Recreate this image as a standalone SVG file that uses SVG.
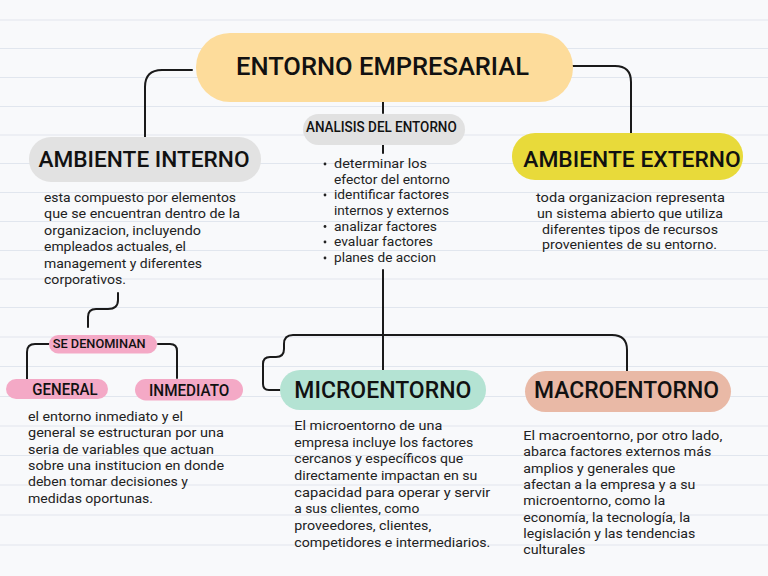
<svg xmlns="http://www.w3.org/2000/svg" width="768" height="576" viewBox="0 0 768 576">
<style>
.bg{fill:#f8f9fb}
.rule{stroke:#e1e6ee;stroke-width:1.2}
.conn{fill:none;stroke:#1a1a1a;stroke-width:2;stroke-linecap:round;stroke-linejoin:round}
.h{font-family:Roboto,"Noto Sans","Liberation Sans",sans-serif;font-weight:500;fill:#111}
.b{font-family:Roboto,"Liberation Sans",sans-serif;font-size:13px;fill:#222}
.bl{font-family:Roboto,"Liberation Sans",sans-serif;font-size:12.5px;fill:#222}
.dot{fill:#222}
</style>
<rect class="bg" x="0" y="0" width="768" height="576"/>
<g id="rules">
<line class="rule" x1="0" x2="768" y1="20" y2="20"/>
<line class="rule" x1="0" x2="768" y1="48.5" y2="48.5"/>
<line class="rule" x1="0" x2="768" y1="77.5" y2="77.5"/>
<line class="rule" x1="0" x2="768" y1="106.5" y2="106.5"/>
<line class="rule" x1="0" x2="768" y1="135" y2="135"/>
<line class="rule" x1="0" x2="768" y1="163.5" y2="163.5"/>
<line class="rule" x1="0" x2="768" y1="192.5" y2="192.5"/>
<line class="rule" x1="0" x2="768" y1="221.5" y2="221.5"/>
<line class="rule" x1="0" x2="768" y1="250.5" y2="250.5"/>
<line class="rule" x1="0" x2="768" y1="279" y2="279"/>
<line class="rule" x1="0" x2="768" y1="307.5" y2="307.5"/>
<line class="rule" x1="0" x2="768" y1="337" y2="337"/>
<line class="rule" x1="0" x2="768" y1="366.5" y2="366.5"/>
<line class="rule" x1="0" x2="768" y1="396.5" y2="396.5"/>
<line class="rule" x1="0" x2="768" y1="426" y2="426"/>
<line class="rule" x1="0" x2="768" y1="455.5" y2="455.5"/>
<line class="rule" x1="0" x2="768" y1="485" y2="485"/>
<line class="rule" x1="0" x2="768" y1="515" y2="515"/>
<line class="rule" x1="0" x2="768" y1="545" y2="545"/>
</g>
<g id="connectors">
<path class="conn" d="M192,70 H162 Q145,70 145,87 V138"/>
<path class="conn" d="M572,66 H615 Q631,66 631,82 V136"/>
<path class="conn" d="M383,101 V113"/>
<path class="conn" d="M383,144 V153"/>
<path class="conn" d="M383,270 V371"/>
<path class="conn" d="M383,335 H293 Q284,335 284,344 V349 Q284,357 276,357 H270 Q263,357 263,364 V384 Q263,390 269,390 H281"/>
<path class="conn" d="M383,335 H612 Q627,335 627,350 V372"/>
<path class="conn" d="M118,293 V300 Q118,309 108,309 H96 Q88,309 88,317 V327"/>
<path class="conn" d="M49,344 H35 Q27,344 27,352 V383"/>
<path class="conn" d="M158,344 H170 Q177,344 177,351 V378"/>
</g>
<g id="n-main">
<rect x="196" y="33" width="377" height="69" rx="34" fill="#fddc9b"/>
<text class="h" x="236" y="75" font-size="25.7" textLength="293" lengthAdjust="spacingAndGlyphs">ENTORNO EMPRESARIAL</text>
</g>
<g id="n-interno">
<rect x="29" y="137" width="232" height="45" rx="22" fill="#e2e2e2"/>
<text class="h" x="38.5" y="167" font-size="22.7" textLength="211" lengthAdjust="spacingAndGlyphs">AMBIENTE INTERNO</text>
<text class="b"><tspan x="44" y="202" textLength="192" lengthAdjust="spacingAndGlyphs">esta compuesto por elementos</tspan><tspan x="44" y="218.4" textLength="196" lengthAdjust="spacingAndGlyphs">que se encuentran dentro de la</tspan><tspan x="44" y="234.8" textLength="157" lengthAdjust="spacingAndGlyphs">organizacion, incluyendo</tspan><tspan x="44" y="251.2" textLength="142" lengthAdjust="spacingAndGlyphs">empleados actuales, el</tspan><tspan x="44" y="267.6" textLength="158" lengthAdjust="spacingAndGlyphs">management y diferentes</tspan><tspan x="44" y="284" textLength="82" lengthAdjust="spacingAndGlyphs">corporativos.</tspan></text>
</g>
<g id="n-analisis">
<rect x="303" y="114" width="162" height="31" rx="15.5" fill="#e1e1e1"/>
<text class="h" x="306" y="132.3" font-size="14.5" textLength="150.7" lengthAdjust="spacingAndGlyphs">ANALISIS DEL ENTORNO</text>
<circle class="dot" cx="325" cy="164" r="1.4"/>
<circle class="dot" cx="325" cy="195" r="1.4"/>
<circle class="dot" cx="325" cy="226.5" r="1.4"/>
<circle class="dot" cx="325" cy="242" r="1.4"/>
<circle class="dot" cx="325" cy="258" r="1.4"/>
<text class="bl"><tspan x="334" y="168" textLength="93" lengthAdjust="spacingAndGlyphs">determinar los</tspan><tspan x="334" y="183.5" textLength="116" lengthAdjust="spacingAndGlyphs">efector del entorno</tspan><tspan x="334" y="199" textLength="115" lengthAdjust="spacingAndGlyphs">identificar factores</tspan><tspan x="334" y="215" textLength="115" lengthAdjust="spacingAndGlyphs">internos y externos</tspan><tspan x="334" y="230.5" textLength="103" lengthAdjust="spacingAndGlyphs">analizar factores</tspan><tspan x="334" y="246" textLength="99" lengthAdjust="spacingAndGlyphs">evaluar factores</tspan><tspan x="334" y="262" textLength="102" lengthAdjust="spacingAndGlyphs">planes de accion</tspan></text>
</g>
<g id="n-externo">
<rect x="512" y="133" width="231" height="47" rx="23" fill="#e8da3a"/>
<text class="h" x="523.3" y="167" font-size="22.8" textLength="217.4" lengthAdjust="spacingAndGlyphs">AMBIENTE EXTERNO</text>
<text class="b"><tspan x="536" y="201.7" textLength="189" lengthAdjust="spacingAndGlyphs">toda organizacion representa</tspan><tspan x="537" y="217.6" textLength="186" lengthAdjust="spacingAndGlyphs">un sistema abierto que utiliza</tspan><tspan x="542" y="233.5" textLength="176" lengthAdjust="spacingAndGlyphs">diferentes tipos de recursos</tspan><tspan x="542" y="249.4" textLength="175" lengthAdjust="spacingAndGlyphs">provenientes de su entorno.</tspan></text>
</g>
<g id="n-denominan">
<rect x="49" y="335" width="108" height="18.5" rx="9.2" fill="#f4a9c6"/>
<text class="h" x="52.7" y="348.3" font-size="13" textLength="93" lengthAdjust="spacingAndGlyphs">SE DENOMINAN</text>
</g>
<g id="n-general">
<rect x="6" y="379" width="102" height="20" rx="10" fill="#f4a9c6"/>
<text class="h" x="32.3" y="395" font-size="16" textLength="65.4" lengthAdjust="spacingAndGlyphs">GENERAL</text>
<text class="b"><tspan x="28" y="420.5" textLength="155" lengthAdjust="spacingAndGlyphs">el entorno inmediato y el</tspan><tspan x="28" y="437" textLength="196" lengthAdjust="spacingAndGlyphs">general se estructuran por una</tspan><tspan x="28" y="453.5" textLength="186" lengthAdjust="spacingAndGlyphs">seria de variables que actuan</tspan><tspan x="28" y="470" textLength="196" lengthAdjust="spacingAndGlyphs">sobre una institucion en donde</tspan><tspan x="28" y="486.3" textLength="160" lengthAdjust="spacingAndGlyphs">deben tomar decisiones y</tspan><tspan x="28" y="502.7" textLength="125" lengthAdjust="spacingAndGlyphs">medidas oportunas.</tspan></text>
</g>
<g id="n-inmediato">
<rect x="135" y="379" width="108" height="21.5" rx="10.7" fill="#f4a9c6"/>
<text class="h" x="149" y="396" font-size="16" textLength="80.3" lengthAdjust="spacingAndGlyphs">INMEDIATO</text>
</g>
<g id="n-micro">
<rect x="280" y="370" width="206" height="40" rx="20" fill="#b4e3d3"/>
<text class="h" x="294.3" y="398.3" font-size="23" textLength="177" lengthAdjust="spacingAndGlyphs">MICROENTORNO</text>
<text class="b"><tspan x="294.3" y="430" textLength="148" lengthAdjust="spacingAndGlyphs">El microentorno de una</tspan><tspan x="294.3" y="446.7" textLength="179" lengthAdjust="spacingAndGlyphs">empresa incluye los factores</tspan><tspan x="294.3" y="463.3" textLength="169" lengthAdjust="spacingAndGlyphs">cercanos y específicos que</tspan><tspan x="294.3" y="480" textLength="183" lengthAdjust="spacingAndGlyphs">directamente impactan en su</tspan><tspan x="294.3" y="496.7" textLength="196" lengthAdjust="spacingAndGlyphs">capacidad para operar y servir</tspan><tspan x="294.3" y="513.3" textLength="125" lengthAdjust="spacingAndGlyphs">a sus clientes, como</tspan><tspan x="294.3" y="530" textLength="137" lengthAdjust="spacingAndGlyphs">proveedores, clientes,</tspan><tspan x="294.3" y="546.7" textLength="196" lengthAdjust="spacingAndGlyphs">competidores e intermediarios.</tspan></text>
</g>
<g id="n-macro">
<rect x="525" y="371" width="206" height="41" rx="20.5" fill="#e9b9a6"/>
<text class="h" x="534" y="398.3" font-size="23" textLength="185" lengthAdjust="spacingAndGlyphs">MACROENTORNO</text>
<text class="b"><tspan x="523.3" y="440" textLength="199" lengthAdjust="spacingAndGlyphs">El macroentorno, por otro lado,</tspan><tspan x="523.3" y="456.3" textLength="188" lengthAdjust="spacingAndGlyphs">abarca factores externos más</tspan><tspan x="523.3" y="472.6" textLength="152" lengthAdjust="spacingAndGlyphs">amplios y generales que</tspan><tspan x="523.3" y="488.9" textLength="172" lengthAdjust="spacingAndGlyphs">afectan a la empresa y a su</tspan><tspan x="523.3" y="505.2" textLength="142" lengthAdjust="spacingAndGlyphs">microentorno, como la</tspan><tspan x="523.3" y="521.5" textLength="167" lengthAdjust="spacingAndGlyphs">economía, la tecnología, la</tspan><tspan x="523.3" y="537.8" textLength="172" lengthAdjust="spacingAndGlyphs">legislación y las tendencias</tspan><tspan x="523.3" y="554.1" textLength="62" lengthAdjust="spacingAndGlyphs">culturales</tspan></text>
</g>
</svg>
